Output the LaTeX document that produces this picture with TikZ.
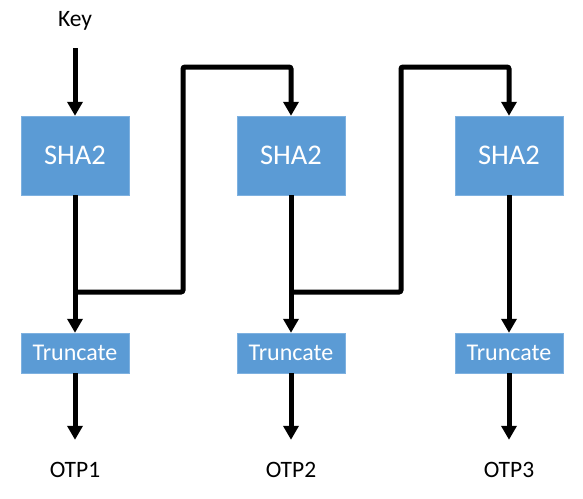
\documentclass[tikz,border=0pt]{standalone}
\usepackage{fontspec}
\setmainfont{Carlito}
\usetikzlibrary{arrows.meta}
\definecolor{boxblue}{HTML}{5B9BD5}
\definecolor{boxline}{HTML}{7EB1E0}
\tikzset{
 arr/.style={line width=5pt,-{Triangle[width=15pt,length=14pt]}},
 shabox/.style={fill=boxblue,draw=boxline,thin,text=white,inner sep=0,
  minimum width=108pt,minimum height=79pt,font=\fontsize{28.5}{31}\selectfont},
 trbox/.style={fill=boxblue,draw=boxline,thin,text=white,inner sep=0,
  minimum width=108pt,minimum height=40pt,font=\fontsize{24}{27}\selectfont},
 lbl/.style={inner sep=0,text height=16pt,text depth=4pt,font=\fontsize{23.5}{26}\selectfont}
}
\begin{document}
\begin{tikzpicture}[x=1pt,y=-1pt]
\useasboundingbox (0,0) rectangle (583,498);
\foreach \i/\x in {1/75,2/291,3/509}{
\node[shabox] (sha\i) at (\x,155.5) {SHA2};
\node[trbox] (tr\i) at (\x,353) {Truncate};
\node[lbl] (otp\i) at (\x,471) {OTP\i};
\draw[arr] (sha\i) -- (tr\i);
\draw[arr,shorten >=21pt] (tr\i) -- (otp\i);
}
\node[lbl] (key) at (75,20) {Key};
\draw[arr,shorten <=18pt] (key) -- (sha1);
% feedback from one SHA2 output into the next
\coordinate (j1) at (75,292);
\coordinate (up1) at (183,67);
\coordinate (j2) at (291,292);
\coordinate (up2) at (401,67);
\draw[arr,rounded corners=2pt] (j1) -| (up1) -| (sha2.north);
\draw[arr,rounded corners=2pt] (j2) -| (up2) -| (sha3.north);
\end{tikzpicture}
\end{document}
